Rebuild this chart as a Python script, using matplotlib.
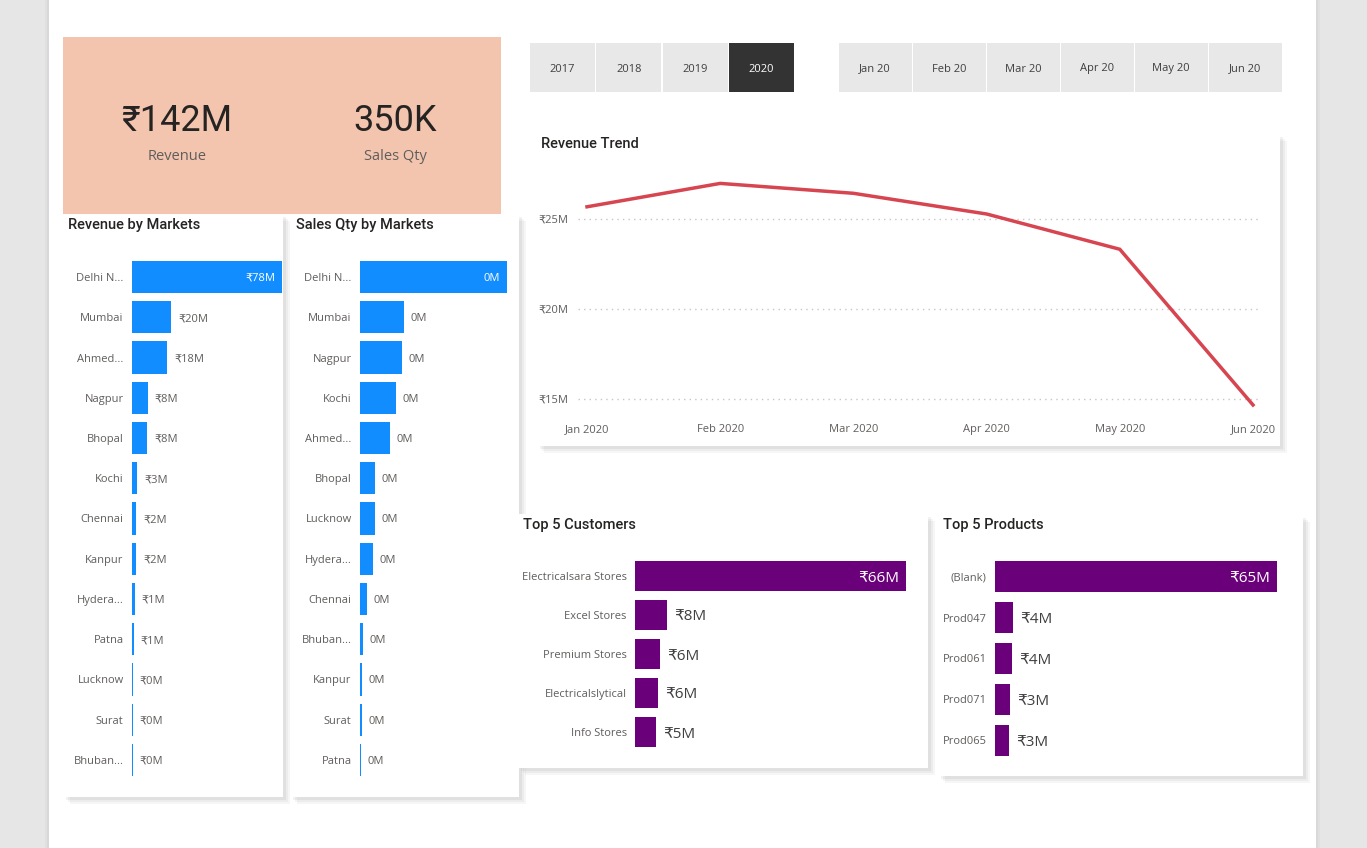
import numpy as np
import matplotlib.pyplot as plt
from matplotlib.patches import Rectangle

plt.rcParams['font.family'] = ['Open Sans', 'DejaVu Sans']

# ------------------------------------------------------------
# Data
# ------------------------------------------------------------
kpi_values = ["₹142M", "350K"]
kpi_names = ["Revenue", "Sales Qty"]

years = ["2017", "2018", "2019", "2020"]
year_selected = "2020"
months = ["Jan 20", "Feb 20", "Mar 20", "Apr 20", "May 20", "Jun 20"]

trend_months = ["Jan 2020", "Feb 2020", "Mar 2020", "Apr 2020", "May 2020", "Jun 2020"]
trend_revenue = [25.68, 26.98, 26.43, 25.28, 23.32, 14.67]  # millions
trend_ticks = [15, 20, 25]

rev_markets = ["Delhi N...", "Mumbai", "Ahmed...", "Nagpur", "Bhopal", "Kochi", "Chennai",
               "Kanpur", "Hydera...", "Patna", "Lucknow", "Surat", "Bhuban..."]
rev_values = [78, 20.3, 18.2, 8.3, 7.8, 2.6, 2.3, 2.1, 1.3, 1.0, 0.5, 0.4, 0.3]  # millions

qty_markets = ["Delhi N...", "Mumbai", "Nagpur", "Kochi", "Ahmed...", "Bhopal", "Lucknow",
               "Hydera...", "Chennai", "Bhuban...", "Kanpur", "Surat", "Patna"]
qty_values = [98000, 29300, 28000, 24000, 20000, 10000, 10000, 8700, 4700, 2000, 1300, 1000, 700]

cust_names = ["Electricalsara Stores", "Excel Stores", "Premium Stores", "Electricalslytical", "Info Stores"]
cust_values = [66, 7.8, 6.1, 5.6, 5.1]  # millions

prod_names = ["(Blank)", "Prod047", "Prod061", "Prod071", "Prod065"]
prod_values = [65, 4.1, 3.9, 3.4, 3.3]  # millions

# ------------------------------------------------------------
# Canvas helpers (pixel layout)
# ------------------------------------------------------------
W, H = 1367, 848
fig = plt.figure(figsize=(W / 100, H / 100), dpi=100)
fig.patch.set_facecolor('#E6E6E6')

bg = fig.add_axes([0, 0, 1, 1], zorder=0)
bg.set_xlim(0, W)
bg.set_ylim(H, 0)
bg.axis('off')


def add_ax(x0, y0, x1, y1):
    ax = fig.add_axes([x0 / W, 1 - y1 / H, (x1 - x0) / W, (y1 - y0) / H], zorder=2)
    ax.patch.set_alpha(0)
    for s in ax.spines.values():
        s.set_visible(False)
    return ax


def panel(x0, y0, x1, y1, color='white', shadow=True):
    if shadow:
        for k, a in [(7, 0.05), (5, 0.06), (3, 0.08)]:
            bg.add_patch(Rectangle((x0 + k, y0 + k), x1 - x0, y1 - y0,
                                   color='#5A5A5A', alpha=a, lw=0))
    bg.add_patch(Rectangle((x0, y0), x1 - x0, y1 - y0, color=color, lw=0))


def title(x, y, s):
    bg.text(x, y, s, fontsize=10.5, color='#252423', va='center', ha='left',
            family=['Roboto', 'DejaVu Sans'], fontweight='medium')


# page with a soft edge
for k, a in [(4, 0.05), (2, 0.07)]:
    bg.add_patch(Rectangle((49 - k, 0), 1316 - 49 + 2 * k, H, color='#7A7A7A', alpha=a, lw=0))
bg.add_patch(Rectangle((49, 0), 1316 - 49, H, color='white', lw=0))

# ------------------------------------------------------------
# KPI card
# ------------------------------------------------------------
panel(63, 37, 501, 214, color='#F3C4AE', shadow=False)
for cx, val, name in zip([177, 395], kpi_values, kpi_names):
    bg.text(cx, 121, val, fontsize=26, color='#252423', ha='center', va='center',
            family=['Roboto', 'DejaVu Sans'])
    bg.text(cx, 156, name, fontsize=10.5, color='#605E5C', ha='center', va='center')

# ------------------------------------------------------------
# Slicers
# ------------------------------------------------------------
for i, yr in enumerate(years):
    x0 = 530 + i * 66.3
    dark = yr == year_selected
    bg.add_patch(Rectangle((x0, 43), 65, 49, color='#333333' if dark else '#E8E8E8', lw=0))
    bg.text(x0 + 32.5, 69, yr, fontsize=8, ha='center', va='center',
            color='white' if dark else '#3F3F3F')

for i, m in enumerate(months):
    x0 = 839 + i * 74
    bg.add_patch(Rectangle((x0, 43), 72.5, 49, color='#E8E8E8', lw=0))
    bg.text(x0 + 36, 69, m, fontsize=8, ha='center', va='center', color='#3F3F3F')

# ------------------------------------------------------------
# Revenue trend
# ------------------------------------------------------------
panel(537, 134, 1280, 446)
title(541, 144, "Revenue Trend")
ax = add_ax(578, 160, 1258, 410)
xs = np.arange(len(trend_months))
ax.plot(xs, trend_revenue, color='#D64550', lw=2.5, clip_on=False, solid_joinstyle='miter')
ax.set_xlim(-0.0676, 5.0375)
ax.set_ylim(14.39, 28.28)
ax.set_yticks(trend_ticks, [f"₹{t}M" for t in trend_ticks])
ax.set_xticks(xs, trend_months)
ax.grid(axis='y', linestyle=(0, (1, 3)), color='#C8C6C4', lw=1)
ax.tick_params(axis='both', length=0, labelsize=8, labelcolor='#605E5C')
ax.tick_params(axis='y', pad=7)
ax.tick_params(axis='x', pad=10)


# ------------------------------------------------------------
# Bar charts
# ------------------------------------------------------------
def bar_chart(box, names, vals, color, fmt, height, label_size, value_size, value_color):
    x0, y0, x1, y1 = box
    ax = add_ax(x0, y0, x1, y1)
    n = len(vals)
    ax.barh(np.arange(n), vals, height=height, color=color)
    ax.set_xlim(0, max(vals))
    ax.set_ylim(n - 0.5, -0.5)
    ax.set_xticks([])
    ax.set_yticks(np.arange(n), names)
    ax.tick_params(axis='y', length=0, pad=6, labelsize=label_size, labelcolor='#605E5C')
    for i, v in enumerate(vals):
        if i == 0:
            ax.annotate(fmt(v), (v, i), xytext=(-5, 0), textcoords='offset points',
                        ha='right', va='center_baseline', color='white', fontsize=value_size)
        else:
            ax.annotate(fmt(v), (v, i), xytext=(5, 0), textcoords='offset points',
                        ha='left', va='center_baseline', color=value_color, fontsize=value_size)
    return ax


panel(63, 214, 283, 797)
panel(290, 214, 519, 797)
title(68, 225, "Revenue by Markets")
title(296, 225, "Sales Qty by Markets")
bar_chart((132, 256.9, 282, 780.1), rev_markets, rev_values, '#118DFF',
          lambda v: f"₹{v:.0f}M", 0.8, 8, 8, '#605E5C')
bar_chart((360, 256.9, 507, 780.1), qty_markets, qty_values, '#118DFF',
          lambda v: f"{v / 1e6:.0f}M", 0.8, 8, 8, '#605E5C')

panel(518, 514, 928, 768)
panel(938, 515, 1303, 776)
title(523, 525, "Top 5 Customers")
title(943, 525, "Top 5 Products")
bar_chart((635, 556.5, 906, 751.5), cust_names, cust_values, '#6B007B',
          lambda v: f"₹{v:.0f}M", 0.77, 8, 11, '#404040')
bar_chart((995, 556.6, 1277, 760.4), prod_names, prod_values, '#6B007B',
          lambda v: f"₹{v:.0f}M", 0.76, 8, 11, '#404040')

fig.savefig('out.png', dpi=100, facecolor=fig.get_facecolor())
